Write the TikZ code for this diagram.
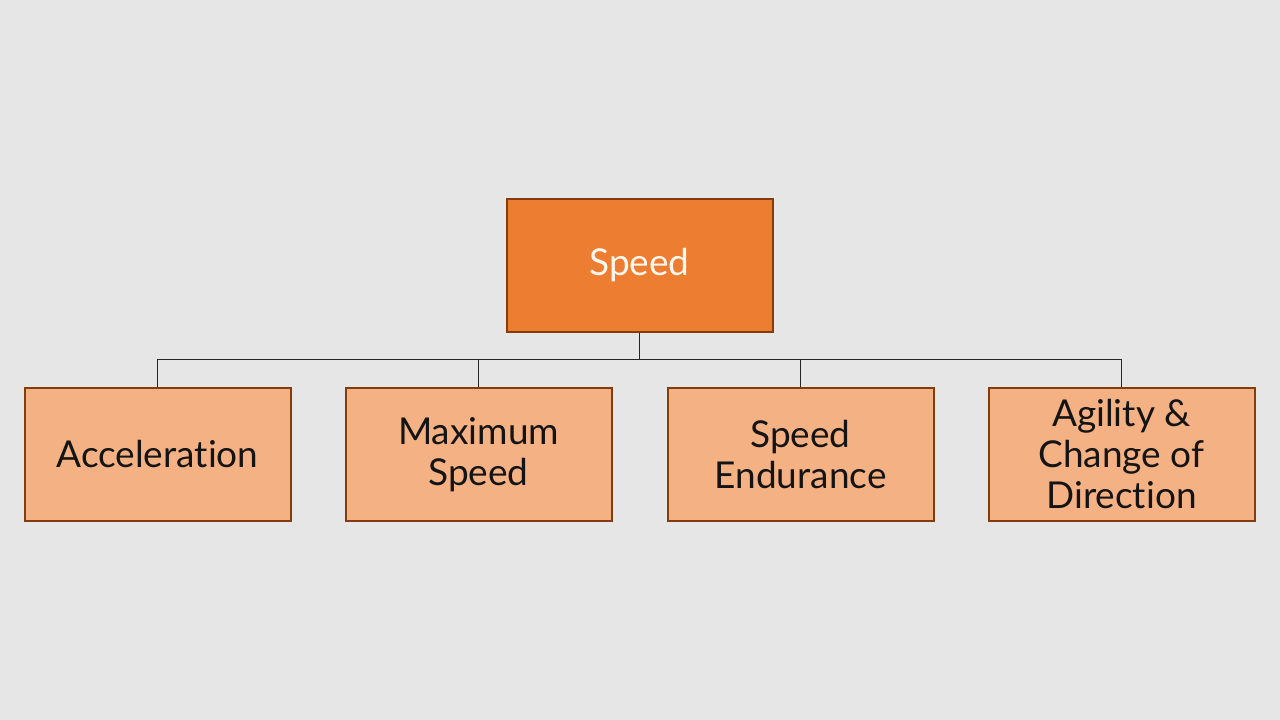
\documentclass[tikz,border=0pt]{standalone}
\usepackage{fontspec}
\setmainfont{Lato}[Ligatures=NoCommon]
\usepackage{xcolor}
\definecolor{slide-bg}{RGB}{231,230,230}
\definecolor{speed-dark}{RGB}{132,60,12}
\definecolor{speed-base}{RGB}{237,125,49}
\definecolor{speed-light}{RGB}{244,177,131}
\definecolor{text-primary}{RGB}{20,20,20}
\definecolor{text-light}{RGB}{255,248,238}
\usepackage{tikz}
\usetikzlibrary{positioning}

\begin{document}
\begin{tikzpicture}[
  x=1pt, y=1pt,
  box/.style={
    draw=speed-dark,
    line width=2pt,
    minimum width=266pt,
    minimum height=133pt,
    inner sep=0pt,
    align=center,
    font=\fontsize{37}{41}\selectfont
  },
  topbox/.style={
    box,
    fill=speed-base,
    text=text-light
  },
  childbox/.style={
    box,
    fill=speed-light,
    text=text-primary
  },
  conn/.style={
    draw=black!85,
    line width=1pt
  }
]

% Background
\fill[slide-bg] (0,0) rectangle (1280,720);
\useasboundingbox (0,0) rectangle (1280,720);

% Top box
\node[topbox] (speed) at (639.5,454.5) {Speed};

% Child boxes
\node[childbox] (accel) at (157.5,265.5) {Acceleration};
\node[childbox] (maxspeed) at (478.5,265.5) {Maximum\\Speed};
\node[childbox] (endurance) at (800.5,265.5) {Speed\\Endurance};
\node[childbox] (agility) at (1121.5,265.5) {Agility \&\\Change of\\Direction};

% Connectors
\coordinate (bus) at (639.5,360);
\foreach \child in {accel,maxspeed,endurance,agility}
  \draw[conn] (speed.south) -- (bus) -| (\child.north);

\end{tikzpicture}
\end{document}
